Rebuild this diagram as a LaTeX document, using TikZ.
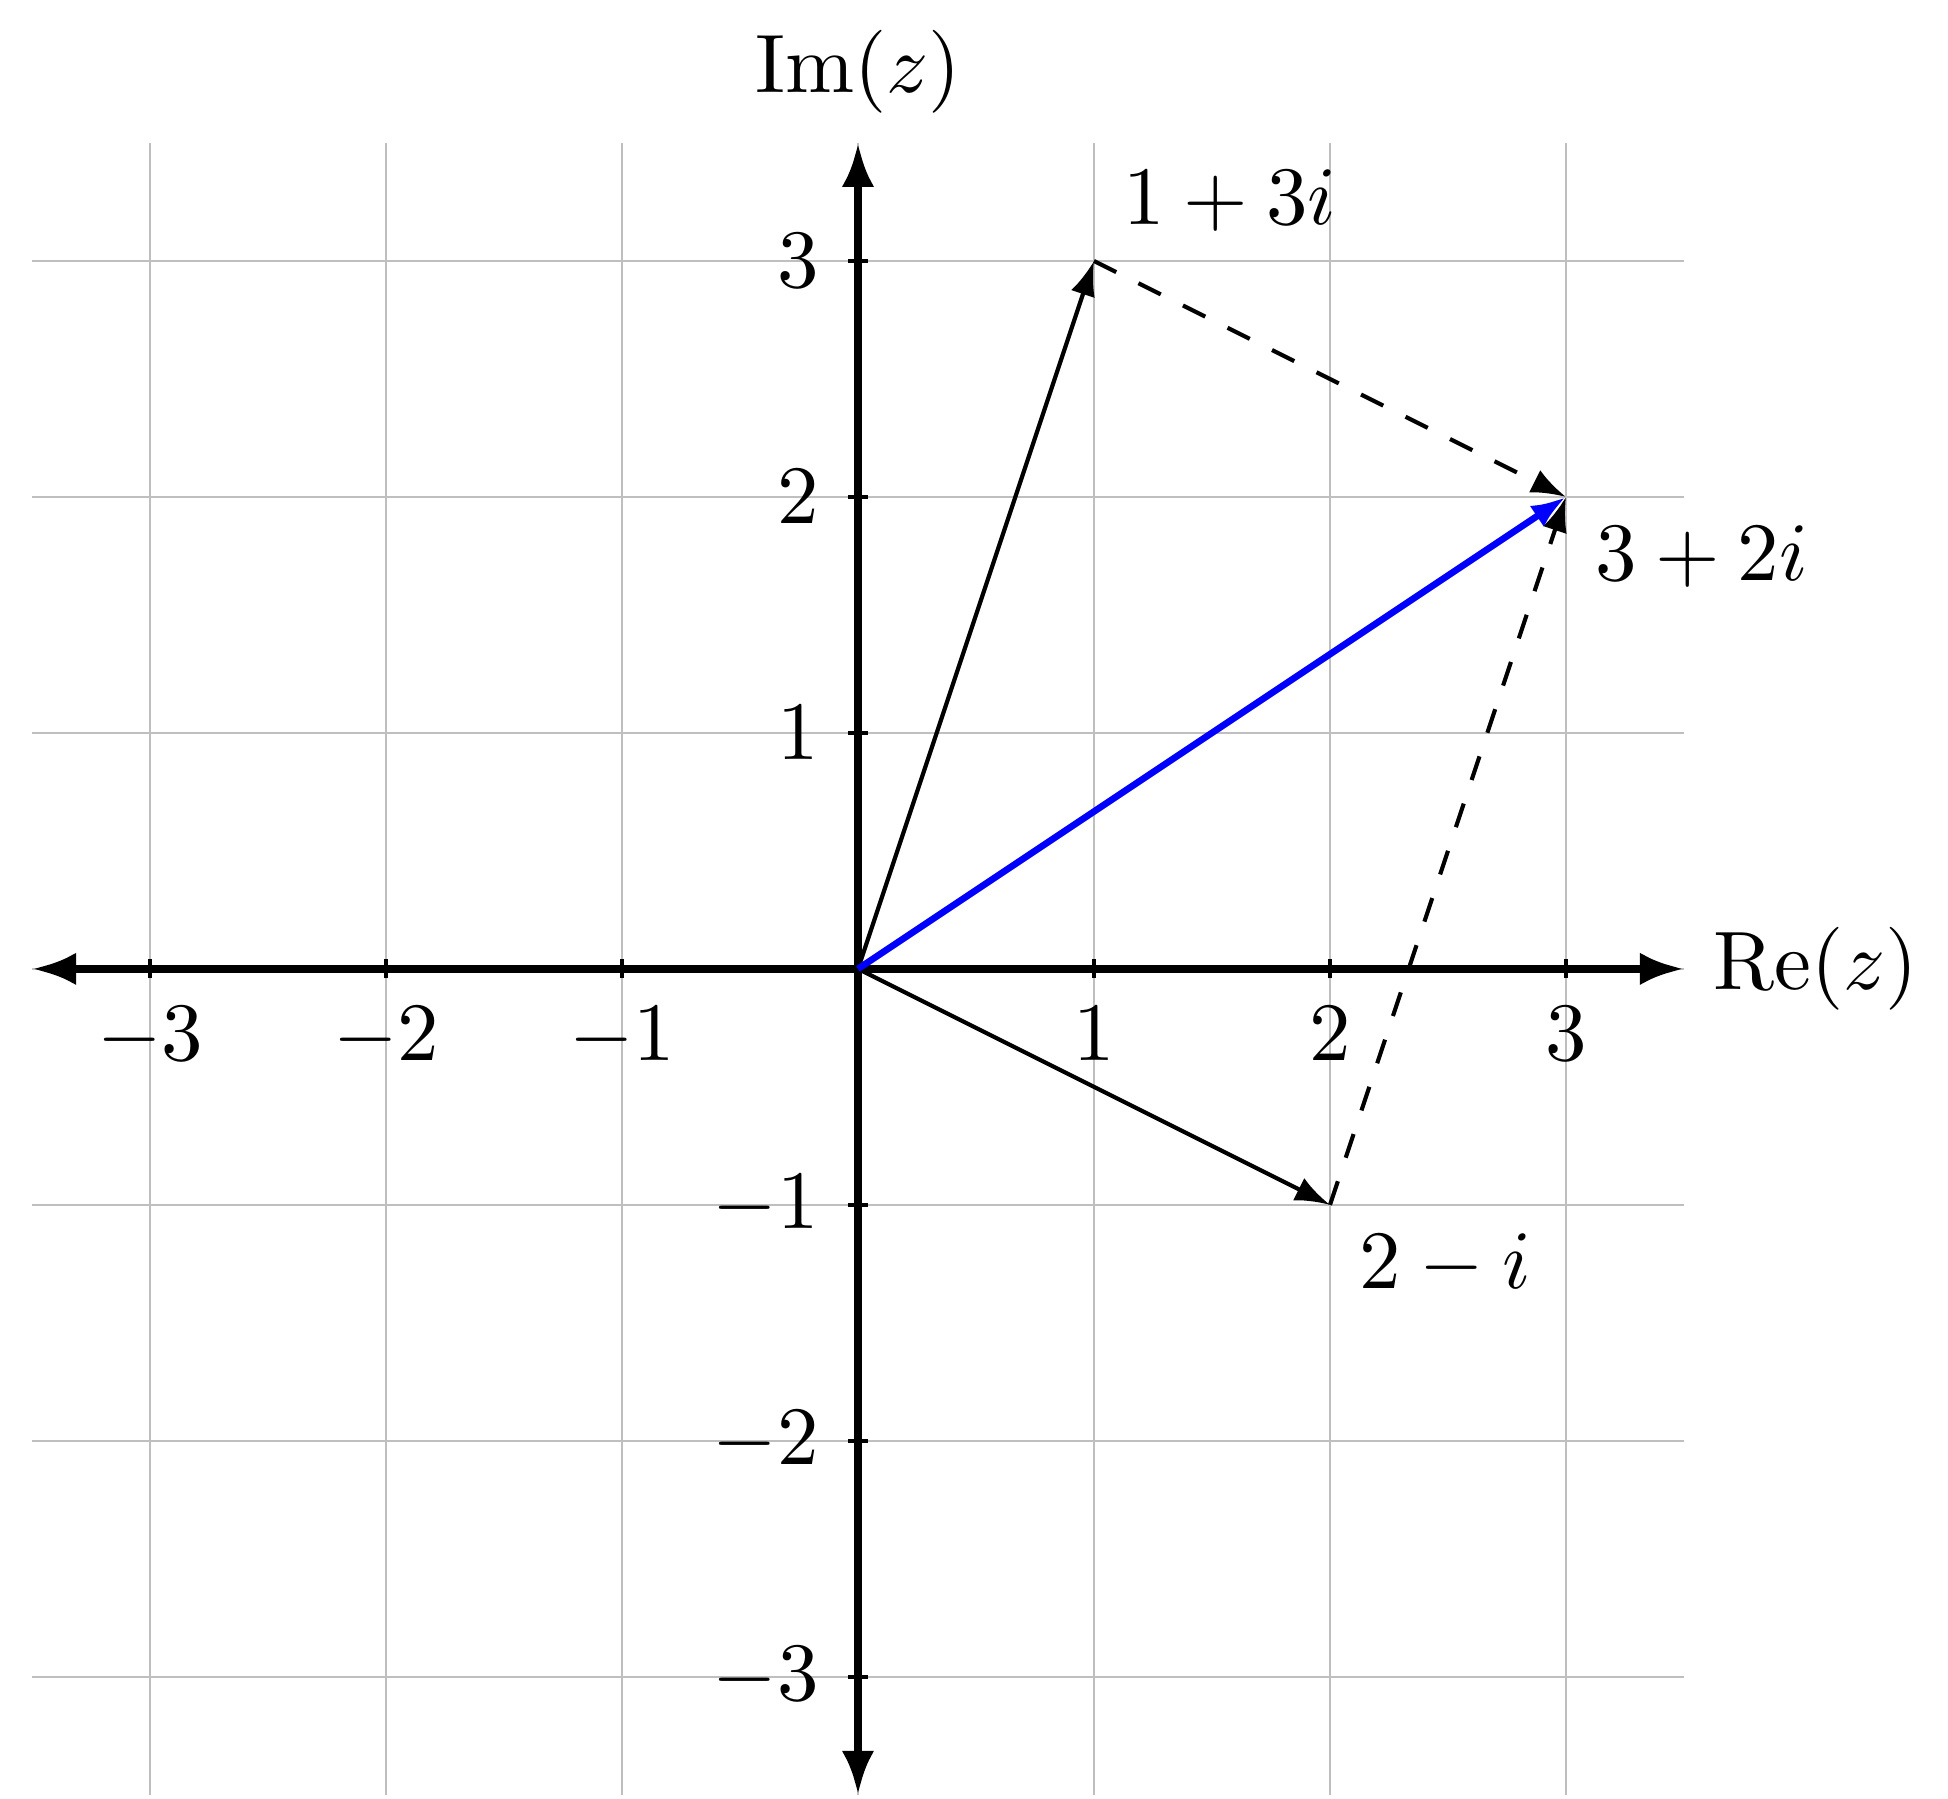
\documentclass[tikz,border=0pt]{standalone}
\usetikzlibrary{arrows.meta}
\tikzset{
    vecarrow/.style={-{Latex[length=4.2pt,width=3pt]}}
}

\begin{document}
\begin{tikzpicture}[
        x=1cm, y=1cm,
        gridline/.style={gray!50, line width=0.25pt},
        axisline/.style={line width=1pt, {Latex[length=5.3pt,width=3.9pt]}-{Latex[length=5.3pt,width=3.9pt]}},
        tickmark/.style={line width=0.45pt},
        xlabel/.style={below, yshift=-1.1pt},
        ylabel/.style={left, xshift=-1.2pt},
        vector/.style={line width=0.5pt, vecarrow},
        sumvector/.style={thick, blue, vecarrow},
        helper/.style={line width=0.5pt, dashed, vecarrow},
    ]
    \useasboundingbox (-3.636,-3.517) rectangle (4.619,4.106);

    \draw[gridline, step={(1,1)}] (-3.5,-3.5) grid (3.5,3.5);

    \coordinate (O)  at (0,0);
    \coordinate (XL) at (-3.5,0);
    \coordinate (XR) at (3.5,0);
    \coordinate (YB) at (0,-3.5);
    \coordinate (YT) at (0,3.5);

    \draw[axisline] (XL) -- (XR);
    \draw[axisline] (YB) -- (YT);

    \node[right] (Re) at (XR) {$\mathrm{Re}(z)$};
    \node[above] (Im) at (YT) {$\mathrm{Im}(z)$};

    \draw[tickmark] ([yshift=-1.15pt]-3,0) -- ([yshift=1.15pt]-3,0);
    \draw[tickmark] ([yshift=-1.15pt]-2,0) -- ([yshift=1.15pt]-2,0);
    \draw[tickmark] ([yshift=-1.15pt]-1,0) -- ([yshift=1.15pt]-1,0);
    \draw[tickmark] ([yshift=-1.15pt]1,0)  -- ([yshift=1.15pt]1,0);
    \draw[tickmark] ([yshift=-1.15pt]2,0)  -- ([yshift=1.15pt]2,0);
    \draw[tickmark] ([yshift=-1.15pt]3,0)  -- ([yshift=1.15pt]3,0);

    \draw[tickmark] ([xshift=-1.15pt]0,-3) -- ([xshift=1.15pt]0,-3);
    \draw[tickmark] ([xshift=-1.15pt]0,-2) -- ([xshift=1.15pt]0,-2);
    \draw[tickmark] ([xshift=-1.15pt]0,-1) -- ([xshift=1.15pt]0,-1);
    \draw[tickmark] ([xshift=-1.15pt]0,1)  -- ([xshift=1.15pt]0,1);
    \draw[tickmark] ([xshift=-1.15pt]0,2)  -- ([xshift=1.15pt]0,2);
    \draw[tickmark] ([xshift=-1.15pt]0,3)  -- ([xshift=1.15pt]0,3);

    \node[xlabel] (xm3) at (-3,0) {$-3$};
    \node[xlabel] (xm2) at (-2,0) {$-2$};
    \node[xlabel] (xm1) at (-1,0) {$-1$};
    \node[xlabel] (x1)  at (1,0)  {$1$};
    \node[xlabel] (x2)  at (2,0)  {$2$};
    \node[xlabel] (x3)  at (3,0)  {$3$};

    \node[ylabel] (ym3) at (0,-3) {$-3$};
    \node[ylabel] (ym2) at (0,-2) {$-2$};
    \node[ylabel] (ym1) at (0,-1) {$-1$};
    \node[ylabel] (y1)  at (0,1)  {$1$};
    \node[ylabel] (y2)  at (0,2)  {$2$};
    \node[ylabel] (y3)  at (0,3)  {$3$};

    \coordinate (A) at (1,3);
    \coordinate (B) at (3,2);
    \coordinate (C) at (2,-1);

    \draw[vector] (O) -- (A);
    \draw[vector] (O) -- (C);
    \draw[helper] (A) -- (B);
    \draw[helper] (C) -- (B);
    \draw[sumvector] (O) -- (B);

    \node[above right] (LA) at (A) {$1+3i$};
    \node[below right] (LB) at (B) {$3+2i$};
    \node[below right] (LC) at (C) {$2-i$};
\end{tikzpicture}
\end{document}
